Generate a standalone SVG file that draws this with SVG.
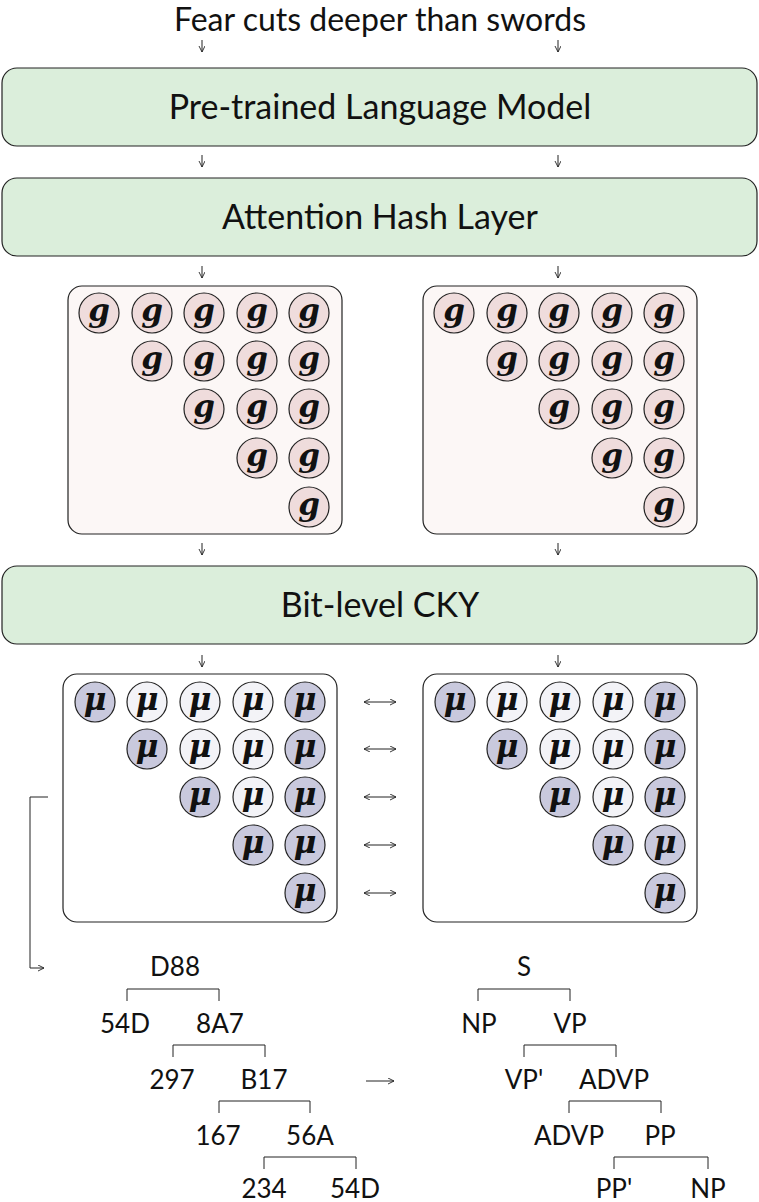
<svg xmlns="http://www.w3.org/2000/svg" width="759" height="1202" viewBox="0 0 759 1202">
<style>
text{font-family:Lato,"Source Sans Pro","Noto Sans",sans-serif;fill:#111;text-anchor:middle}
.big{font-size:34px}
.top{font-size:32px}
.tr{font-size:26px}
.blk{fill:#dbeedb;stroke:#222;stroke-width:1.2}
.mat{fill:#fcf7f6;stroke:#222;stroke-width:1.2}
.mat2{fill:#fff;stroke:#222;stroke-width:1.2}
.g{fill:#efdcdc;stroke:#222;stroke-width:1.2}
.d{fill:#c9c9dd;stroke:#222;stroke-width:1.2}
.l{fill:#f3f3f7;stroke:#222;stroke-width:1.2}
.sym{font-family:"DejaVu Serif","Liberation Serif",serif;font-style:italic;font-weight:bold;font-size:31px}
.ln{fill:none;stroke:#222;stroke-width:1}
</style>
<defs>
<marker id="a" markerWidth="8" markerHeight="8" refX="6" refY="3" orient="auto-start-reverse" markerUnits="userSpaceOnUse"><path d="M0,0 L6,3 L0,6" fill="none" stroke="#222" stroke-width="0.9"/></marker>
<g id="gc"><circle r="20" class="g"/><text class="sym" y="8">g</text></g>
<g id="dm"><circle r="20" class="d"/><text class="sym" y="8">μ</text></g>
<g id="lm"><circle r="20" class="l"/><text class="sym" y="8">μ</text></g>
</defs>
<text class="top" x="380" y="31">Fear cuts deeper than swords</text>
<g id="n1"><rect class="blk" x="2" y="68" width="755" height="78" rx="15"/><text class="big" x="380" y="119">Pre-trained Language Model</text></g>
<g id="n2"><rect class="blk" x="2" y="178" width="755" height="78" rx="15"/><text class="big" x="380" y="229">Attention Hash Layer</text></g>
<g id="n3"><rect class="blk" x="2" y="566" width="755" height="78" rx="15"/><text class="big" x="380" y="617">Bit-level CKY</text></g>
<g id="gL"><rect class="mat" x="68" y="286" width="274" height="248" rx="14"/>
<use href="#gc" x="99" y="313"/><use href="#gc" x="152" y="313"/><use href="#gc" x="204" y="313"/><use href="#gc" x="257" y="313"/><use href="#gc" x="309" y="313"/>
<use href="#gc" x="152" y="361"/><use href="#gc" x="204" y="361"/><use href="#gc" x="257" y="361"/><use href="#gc" x="309" y="361"/>
<use href="#gc" x="204" y="409"/><use href="#gc" x="257" y="409"/><use href="#gc" x="309" y="409"/>
<use href="#gc" x="257" y="458"/><use href="#gc" x="309" y="458"/>
<use href="#gc" x="309" y="507"/></g>
<g id="gR" transform="translate(355,0)"><rect class="mat" x="68" y="286" width="274" height="248" rx="14"/>
<use href="#gc" x="99" y="313"/><use href="#gc" x="152" y="313"/><use href="#gc" x="204" y="313"/><use href="#gc" x="257" y="313"/><use href="#gc" x="309" y="313"/>
<use href="#gc" x="152" y="361"/><use href="#gc" x="204" y="361"/><use href="#gc" x="257" y="361"/><use href="#gc" x="309" y="361"/>
<use href="#gc" x="204" y="409"/><use href="#gc" x="257" y="409"/><use href="#gc" x="309" y="409"/>
<use href="#gc" x="257" y="458"/><use href="#gc" x="309" y="458"/>
<use href="#gc" x="309" y="507"/></g>
<g id="mL"><rect class="mat2" x="63" y="674" width="274" height="248" rx="14"/>
<use href="#dm" x="95" y="702"/><use href="#lm" x="147" y="702"/><use href="#lm" x="200" y="702"/><use href="#lm" x="253" y="702"/><use href="#dm" x="305" y="702"/>
<use href="#dm" x="147" y="749"/><use href="#lm" x="200" y="749"/><use href="#lm" x="253" y="749"/><use href="#dm" x="305" y="749"/>
<use href="#dm" x="200" y="797"/><use href="#lm" x="253" y="797"/><use href="#dm" x="305" y="797"/>
<use href="#dm" x="253" y="845"/><use href="#dm" x="305" y="845"/>
<use href="#dm" x="305" y="893"/></g>
<g id="mR" transform="translate(360,0)"><rect class="mat2" x="63" y="674" width="274" height="248" rx="14"/>
<use href="#dm" x="95" y="702"/><use href="#lm" x="147" y="702"/><use href="#lm" x="200" y="702"/><use href="#lm" x="253" y="702"/><use href="#dm" x="305" y="702"/>
<use href="#dm" x="147" y="749"/><use href="#lm" x="200" y="749"/><use href="#lm" x="253" y="749"/><use href="#dm" x="305" y="749"/>
<use href="#dm" x="200" y="797"/><use href="#lm" x="253" y="797"/><use href="#dm" x="305" y="797"/>
<use href="#dm" x="253" y="845"/><use href="#dm" x="305" y="845"/>
<use href="#dm" x="305" y="893"/></g>
<g id="treeL">
<text class="tr" x="175" y="976">D88</text>
<text class="tr" x="125" y="1033">54D</text><text class="tr" x="220" y="1033">8A7</text>
<text class="tr" x="172" y="1089">297</text><text class="tr" x="264" y="1089">B17</text>
<text class="tr" x="218" y="1145">167</text><text class="tr" x="310" y="1145">56A</text>
<text class="tr" x="264" y="1198">234</text><text class="tr" x="355" y="1198">54D</text>
</g>
<g id="treeR">
<text class="tr" x="524" y="976">S</text>
<text class="tr" x="479" y="1033">NP</text><text class="tr" x="570" y="1033">VP</text>
<text class="tr" x="524" y="1089">VP'</text><text class="tr" x="614" y="1089">ADVP</text>
<text class="tr" x="569" y="1145">ADVP</text><text class="tr" x="660" y="1145">PP</text>
<text class="tr" x="614" y="1198">PP'</text><text class="tr" x="708" y="1198">NP</text>
</g>
<g id="connectors">
<path class="ln" d="M202,40V52" marker-end="url(#a)"/><path class="ln" d="M558,40V52" marker-end="url(#a)"/>
<path class="ln" d="M202,155V167" marker-end="url(#a)"/><path class="ln" d="M558,155V167" marker-end="url(#a)"/>
<path class="ln" d="M202,266V278" marker-end="url(#a)"/><path class="ln" d="M558,266V278" marker-end="url(#a)"/>
<path class="ln" d="M202,543V555" marker-end="url(#a)"/><path class="ln" d="M558,543V555" marker-end="url(#a)"/>
<path class="ln" d="M202,655V667" marker-end="url(#a)"/><path class="ln" d="M558,655V667" marker-end="url(#a)"/>
<path class="ln" d="M364,702H396" marker-start="url(#a)" marker-end="url(#a)"/>
<path class="ln" d="M364,749H396" marker-start="url(#a)" marker-end="url(#a)"/>
<path class="ln" d="M364,797H396" marker-start="url(#a)" marker-end="url(#a)"/>
<path class="ln" d="M364,845H396" marker-start="url(#a)" marker-end="url(#a)"/>
<path class="ln" d="M364,893H396" marker-start="url(#a)" marker-end="url(#a)"/>
<path class="ln" d="M48,797H30V968H44" marker-end="url(#a)"/>
<path class="ln" d="M366,1081H394" marker-end="url(#a)"/>
<path class="ln" d="M127,1001V989H219V1001"/>
<path class="ln" d="M173,1057V1045H265V1057"/>
<path class="ln" d="M219,1113V1101H310V1113"/>
<path class="ln" d="M264,1169V1157H356V1169"/>
<path class="ln" d="M478,1001V989H570V1001"/>
<path class="ln" d="M524,1057V1045H616V1057"/>
<path class="ln" d="M569,1113V1101H661V1113"/>
<path class="ln" d="M614,1169V1157H708V1169"/>
</g>
</svg>
